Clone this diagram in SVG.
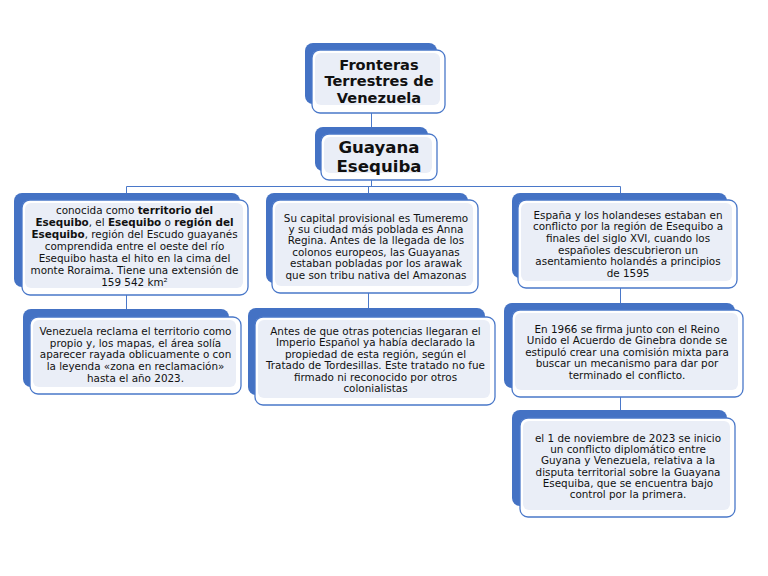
<svg xmlns="http://www.w3.org/2000/svg" width="768" height="576" viewBox="0 0 768 576">
<style>
.back{fill:#4472c4}
.card{fill:#ffffff;stroke:#4a78c9;stroke-width:1.3}
.inner{fill:#eaeef7}
.t{font-family:"DejaVu Sans",sans-serif;font-size:10.4px;fill:#111;text-anchor:middle}
.h{font-family:"DejaVu Sans",sans-serif;font-weight:bold;fill:#111;text-anchor:middle}
.c{stroke:#4a78c9;stroke-width:1;fill:none}
.b{font-weight:bold}
</style>
<rect width="768" height="576" fill="#ffffff"/>
<g id="connectors">
<path class="c" d="M371.5 113V134M371.5 180V186.5M126.5 186.5H620.5M126.5 186.5V200M368.5 186.5V200M620.5 186.5V200M126.5 295V317M368.5 293V317M620.5 288V310M620.5 397V418"/>
</g>
<g id="n_title">
<rect class="back" x="305" y="43" width="132" height="61" rx="8"/>
<rect class="card" x="312" y="50" width="133" height="63" rx="8"/>
<rect class="inner" x="315" y="53" width="125" height="52" rx="6"/>
<text class="h" font-size="14.6"><tspan x="379" y="70">Fronteras</tspan><tspan x="379" y="86.3">Terrestres de</tspan><tspan x="379" y="102.6">Venezuela</tspan></text>
</g>
<g id="n_guayana">
<rect class="back" x="315" y="127" width="113" height="44" rx="8"/>
<rect class="card" x="321" y="134" width="116" height="46" rx="8"/>
<rect class="inner" x="324" y="137" width="108" height="36" rx="6"/>
<text class="h" font-size="16.6"><tspan x="379" y="152.5">Guayana</tspan><tspan x="379" y="171.5">Esequiba</tspan></text>
</g>
<g id="n_left1">
<rect class="back" x="14" y="193" width="226" height="94" rx="8"/>
<rect class="card" x="22" y="200" width="226" height="95" rx="8"/>
<rect class="inner" x="25" y="203" width="218" height="85" rx="6"/>
<text class="t"><tspan x="134.5" y="213.5">conocida como <tspan class="b">territorio del</tspan></tspan><tspan x="134.5" y="225.6"><tspan class="b">Esequibo</tspan>, el <tspan class="b">Esequibo</tspan> o <tspan class="b">región del</tspan></tspan><tspan x="134.5" y="237.7"><tspan class="b">Esequibo</tspan>, región del Escudo guayanés</tspan><tspan x="134.5" y="249.8">comprendida entre el oeste del río</tspan><tspan x="134.5" y="261.9">Esequibo hasta el hito en la cima del</tspan><tspan x="134.5" y="274">monte Roraima. Tiene una extensión de</tspan><tspan x="134.5" y="286.1">159 542 km²</tspan></text>
</g>
<g id="n_left2">
<rect class="back" x="23" y="309" width="206" height="78" rx="8"/>
<rect class="card" x="30" y="317" width="211" height="77" rx="8"/>
<rect class="inner" x="33" y="320" width="203" height="67" rx="6"/>
<text class="t"><tspan x="135.5" y="335">Venezuela reclama el territorio como</tspan><tspan x="135.5" y="346.7">propio y, los mapas, el área solía</tspan><tspan x="135.5" y="358.4">aparecer rayada oblicuamente o con</tspan><tspan x="135.5" y="370.1">la leyenda «zona en reclamación»</tspan><tspan x="135.5" y="381.8">hasta el año 2023.</tspan></text>
</g>
<g id="n_mid1">
<rect class="back" x="266" y="193" width="202" height="90" rx="8"/>
<rect class="card" x="272" y="200" width="206" height="93" rx="8"/>
<rect class="inner" x="275" y="203" width="198" height="83" rx="6"/>
<text class="t"><tspan x="376" y="221.5">Su capital provisional es Tumeremo</tspan><tspan x="376" y="232.9">y su ciudad más poblada es Anna</tspan><tspan x="376" y="244.3">Regina. Antes de la llegada de los</tspan><tspan x="376" y="255.7">colonos europeos, las Guayanas</tspan><tspan x="376" y="267.1">estaban pobladas por  los arawak</tspan><tspan x="376" y="278.5">que son tribu nativa del Amazonas</tspan></text>
</g>
<g id="n_mid2">
<rect class="back" x="248" y="308" width="237" height="87" rx="8"/>
<rect class="card" x="255" y="317" width="240" height="88" rx="8"/>
<rect class="inner" x="258" y="320" width="232" height="78" rx="6"/>
<text class="t"><tspan x="375.5" y="334.5">Antes de que otras potencias llegaran  el</tspan><tspan x="375.5" y="346">Imperio Español ya había declarado la</tspan><tspan x="375.5" y="357.5">propiedad de esta región, según el</tspan><tspan x="375.5" y="369">Tratado de Tordesillas. Este tratado no fue</tspan><tspan x="375.5" y="380.5">firmado ni reconocido por otros</tspan><tspan x="375.5" y="392">colonialistas</tspan></text>
</g>
<g id="n_right1">
<rect class="back" x="512" y="193" width="215" height="85" rx="8"/>
<rect class="card" x="518" y="200" width="219" height="88" rx="8"/>
<rect class="inner" x="521" y="203" width="211" height="78" rx="6"/>
<text class="t"><tspan x="628" y="218.5">España y los holandeses estaban en</tspan><tspan x="628" y="230.2">conflicto por la región de Esequibo a</tspan><tspan x="628" y="241.9">finales del siglo XVI, cuando los</tspan><tspan x="628" y="253.6">españoles descubrieron un</tspan><tspan x="628" y="265.3">asentamiento holandés a principios</tspan><tspan x="628" y="277">de 1595</tspan></text>
</g>
<g id="n_right2">
<rect class="back" x="504" y="303" width="231" height="85" rx="8"/>
<rect class="card" x="512" y="310" width="231" height="87" rx="8"/>
<rect class="inner" x="515" y="313" width="223" height="77" rx="6"/>
<text class="t"><tspan x="627" y="332.8">En 1966 se firma junto con el Reino</tspan><tspan x="627" y="344.3">Unido el Acuerdo de Ginebra donde se</tspan><tspan x="627" y="355.8">estipuló crear una comisión mixta para</tspan><tspan x="627" y="367.3">buscar un mecanismo para dar por</tspan><tspan x="627" y="378.8">terminado el conflicto.</tspan></text>
</g>
<g id="n_right3">
<rect class="back" x="512" y="410" width="215" height="96" rx="8"/>
<rect class="card" x="520" y="418" width="215" height="99" rx="8"/>
<rect class="inner" x="523" y="421" width="207" height="89" rx="6"/>
<text class="t"><tspan x="628" y="441.8">el 1 de noviembre de 2023 se inicio</tspan><tspan x="628" y="453.1">un conflicto diplomático entre</tspan><tspan x="628" y="464.4">Guyana y Venezuela, relativa a la</tspan><tspan x="628" y="475.7">disputa territorial sobre la Guayana</tspan><tspan x="628" y="487">Esequiba, que se encuentra bajo</tspan><tspan x="628" y="498.3">control por la primera.</tspan></text>
</g>
</svg>
